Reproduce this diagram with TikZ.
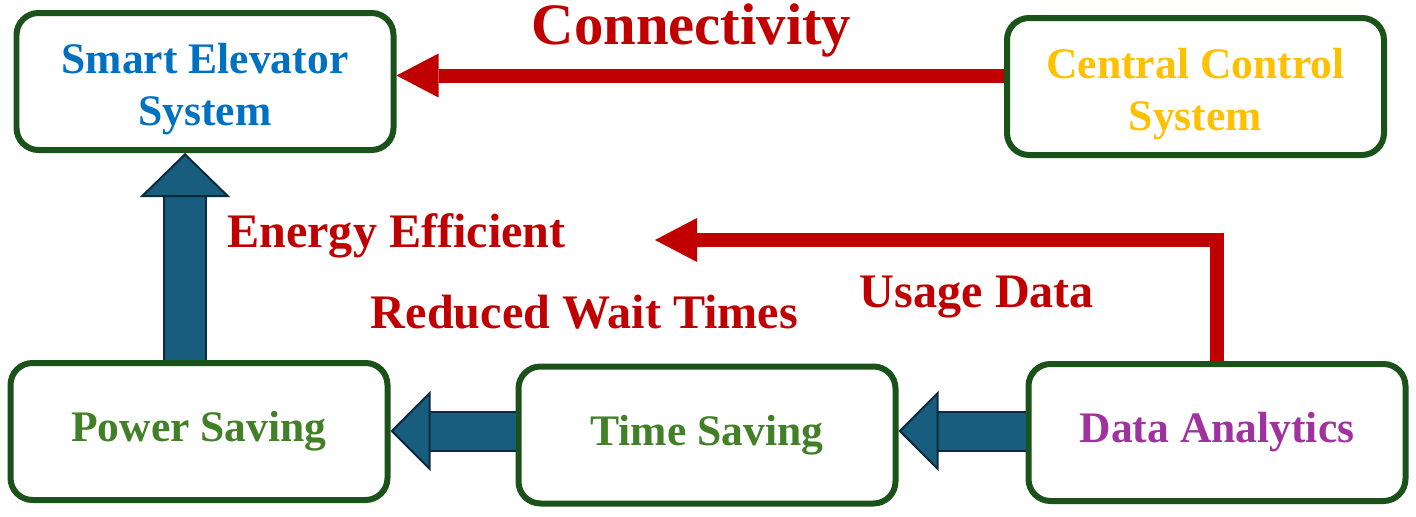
\documentclass[tikz,border=0pt]{standalone}
\usepackage{fontspec}
\setmainfont{Liberation Serif}
\usetikzlibrary{arrows.meta}
\definecolor{boxgreen}{RGB}{26,82,26}
\definecolor{linkred}{RGB}{192,0,0}
\definecolor{arrblue}{RGB}{24,92,126}
\definecolor{arredge}{RGB}{12,42,60}
\definecolor{txtblue}{RGB}{0,112,192}
\definecolor{txtgold}{RGB}{255,192,0}
\definecolor{txtgreen}{RGB}{66,128,40}
\definecolor{txtpurple}{RGB}{160,50,160}
\newcommand{\boxfont}{\bfseries\fontsize{12.4}{14.8}\selectfont}
\newcommand{\lblfont}{\bfseries\fontsize{13.7}{16}\selectfont}

\begin{document}
\begin{tikzpicture}[
  sysbox/.style={draw=boxgreen, line width=0.06cm, rounded corners=0.22cm, fill=white,
    minimum width=3.77cm, minimum height=1.37cm, align=center, font=\boxfont},
  twoline/.style={text height=0.97cm},
  redlink/.style={linkred, line width=0.14cm,
    -{Triangle[length=0.42cm,width=0.44cm,line width=0pt]}},
  blockarr/.style={draw=arredge, line width=0.02cm, double=arrblue, double distance=0.37cm,
    -{Triangle[length=0.40cm,width=0.80cm,line width=0.02cm,fill=arrblue]}},
  lbl/.style={anchor=base, inner sep=0pt, text=linkred, font=\lblfont}]
  \useasboundingbox (0,0) rectangle (14.16,5.16);
  \node[sysbox, twoline, text=txtblue] (sms) at (2.05,4.345)  {Smart Elevator\\System};
  \node[sysbox, twoline, text=txtgold] (ccs) at (11.955,4.295) {Central Control\\System};
  \node[sysbox, text=txtgreen]  (ps)  at (1.99,0.845)  {Power Saving};
  \node[sysbox, text=txtgreen]  (ts)  at (7.07,0.81)   {Time Saving};
  \node[sysbox, text=txtpurple] (da)  at (12.17,0.835) {Data Analytics};
  \coordinate (cy) at (0,4.405);
  \coordinate (ud) at (6.55,2.76);
  \coordinate (hy) at (0,0.85);
  \draw[redlink] (ccs.west |- cy) -- (sms.east |- cy);
  \draw[redlink] (da.north) |- (ud);
  \draw[blockarr, double distance=0.40cm,
    -{Triangle[length=0.44cm,width=0.90cm,line width=0.02cm,fill=arrblue]}]
    ([xshift=-0.14cm]ps.north) -- ([xshift=-0.14cm]ps.north |- sms.south);
  \draw[blockarr] (ts.west |- hy) -- (ps.east |- hy);
  \draw[blockarr] (da.west |- hy) -- (ts.east |- hy);
  \node[lbl, font=\bfseries\fontsize{16.7}{19}\selectfont] (conn) at (6.915,4.71) {Connectivity};
  \node[lbl] (energy) at (3.965,2.69)  {Energy Efficient};
  \node[lbl] (wait)   at (5.845,1.88)  {Reduced Wait Times};
  \node[lbl] (usage)  at (9.77,2.085)  {Usage Data};
\end{tikzpicture}
\end{document}
